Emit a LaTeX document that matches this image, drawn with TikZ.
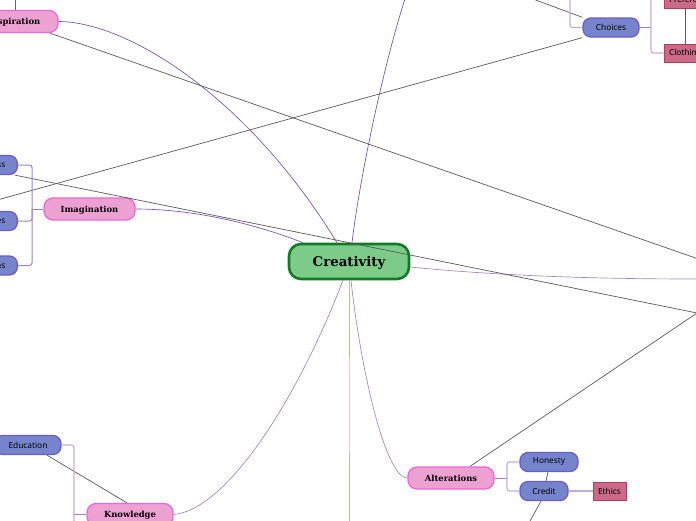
\documentclass[tikz,border=0pt]{standalone}
\usepackage{fontspec}
\setmainfont{Noto Sans}
\newfontfamily\serifb{DejaVu Serif}
\tikzset{
  pxgrid/.style={x=1pt,y=-1pt},
  pill/.style={rounded corners=#1,line width=1.3pt,align=center,inner sep=0pt},
  rootbox/.style={pill=12pt,fill=rootfill,draw=rootline,line width=2.6pt,minimum width=120pt,minimum height=35pt,text depth=0pt,font=\serifb\bfseries\fontsize{13.3}{15}\selectfont},
  mainbox/.style={pill=9pt,fill=mainfill,draw=mainline,minimum height=22pt,text depth=0pt,font=\serifb\bfseries\fontsize{8.4}{10}\selectfont},
  subbox/.style={pill=8pt,fill=subfill,draw=subline,minimum height=19pt,font=\fontsize{8.3}{10}\selectfont},
  edgebox/.style={subbox,inner xsep=12pt,anchor=east},
  leafbox/.style={fill=leaffill,draw=leafline,line width=1pt,inner xsep=5pt,inner ysep=0pt,minimum height=18pt,font=\fontsize{8.3}{10}\selectfont},
  blackline/.style={draw=black!65,line width=.7pt},
  purpline/.style={draw=purp,line width=.65pt},
  softline/.style={draw=purp!70,line width=.65pt},
  branchline/.style={draw=purp!70,line width=1pt,rounded corners=2.5pt},
  paleline/.style={draw=purp!45,line width=1.2pt,rounded corners=2.5pt},
}
\definecolor{rootfill}{HTML}{7CCB88}
\definecolor{rootline}{HTML}{117A25}
\definecolor{mainfill}{HTML}{EDA0D2}
\definecolor{mainline}{HTML}{F066D8}
\definecolor{subfill}{HTML}{7684CC}
\definecolor{subline}{HTML}{6A5CCB}
\definecolor{leaffill}{HTML}{CB6A86}
\definecolor{leafline}{HTML}{B83A5C}
\definecolor{purp}{HTML}{7B4BA8}
\begin{document}
\begin{tikzpicture}[pxgrid]
\useasboundingbox (0,0) rectangle (696,520);
\clip (0,0) rectangle (696,520);
% off-canvas anchors
\coordinate (topfree) at (405,-1);
\coordinate (toptwo) at (533,-1);
\coordinate (rightA) at (697,258.5);
\coordinate (rightB) at (697,279);
\coordinate (rightC) at (697,313);
\coordinate (leftA) at (-1,199.5);
\coordinate (midA) at (349.5,358);
\coordinate (midB) at (349.5,453);
\coordinate (botA) at (349.5,521);
\coordinate (botB) at (530,521);
\coordinate (insptop) at (15,-1);
\coordinate (chtop) at (570,-1);
\coordinate (chrtop) at (651,-1);
\coordinate (kbot) at (74,521);

\node[rootbox] (root) at (349,261.5) {Creativity};
\node[mainbox,minimum width=88pt] (insp) at (14,21.5) {Inspiration};
\node[mainbox,minimum width=91pt] (imag) at (89.5,209) {Imagination};
\node[mainbox,minimum width=86pt] (know) at (130,514.5) {Knowledge};
\node[mainbox,minimum width=86pt] (alter) at (451,478) {Alterations};
\node[subbox,minimum width=56pt] (choices) at (611,27.5) {Choices};
\node[subbox,minimum width=58pt] (honesty) at (549,462) {Honesty};
\node[subbox,minimum width=48pt] (credit) at (544,491) {Credit};
\node[subbox,minimum width=66pt] (educ) at (28,445) {Education};
\node[edgebox] (nss) at (18,165) {Process};
\node[edgebox] (nes) at (18,221) {Sources};
\node[edgebox] (nas) at (18,265.5) {Ideas};
\node[leafbox,minimum width=33pt] (ethics) at (609.5,491) {Ethics};
\node[leafbox,anchor=west] (cloth) at (663.5,53) {Clothing};
\node[leafbox,anchor=west] (pref) at (663.5,-1) {Preferences};

% curved connectors
\draw[purpline] (insp.east) .. controls (130,22) and (250,100) .. (root.north -| 337,0);
\draw[purpline] (imag.east) .. controls (190,209) and (250,222) .. (root.north -| 303,0);
\draw[purpline] (root.north -| 352,0) .. controls (360,175) and (385,60) .. (topfree);
\draw[softline] (root.east |- 0,267) .. controls (500,276) and (600,279) .. (rightB);
\draw[softline] (know.east) .. controls (225,510) and (295,405) .. (root.south -| 343,0);
\draw[softline] (root.south -| 351,0) .. controls (360,365) and (385,478) .. (alter.west);
\draw[paleline,draw=purp!45] (root.south -| 349.5,0) -- (midA);
\draw[paleline,draw=purp!28] (midA) -- (midB);
\draw[paleline,draw=purp!45] (midB) -- (botA);

% straight connectors
\draw[blackline] (insp.south -| 50,0) -- (rightA);
\draw[blackline] (leftA) -- (choices.south west);
\draw[blackline] (nss.south -| 15,0) -- (rightC);
\draw[blackline] (alter.north -| 470,0) -- (rightC);
\draw[blackline] (toptwo) -- (choices.north west);
\draw[blackline] (honesty.south -| 548,0) -- (credit.north -| 546,0);
\draw[blackline] (credit.south -| 541,0) -- (botB);
\draw[blackline] (educ.south -| 47,0) -- (know.north -| 127,0);
\draw[blackline] (pref.south -| 685,0) -- (cloth.north -| 685,0);

% branches
\draw[purpline] (insp.north -| 15,0) -- (insptop);
\draw[branchline] (imag.west) -- (32,209);
\draw[branchline] (nss.east) -| (32,209) |- (nas.east);
\draw[branchline] (nes.east) -| (32,209);
\draw[branchline] (know.west) -- (74,514.5);
\draw[paleline] (educ.east) -| (kbot);
\draw[branchline] (alter.east) -- (507,478);
\draw[paleline] (honesty.west) -| (507,478) |- (credit.west);
\draw[paleline] (credit.east) -- (ethics.west);
\draw[paleline] (chtop) |- (choices.west);
\draw[branchline] (choices.east) -- (651,27.5);
\draw[paleline] (chrtop) |- (cloth.west);
\end{tikzpicture}
\end{document}
